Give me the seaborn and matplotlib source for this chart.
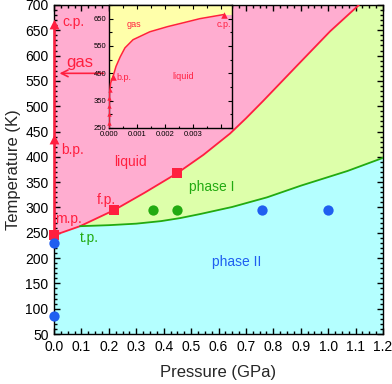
import numpy as np
import pandas as pd
import matplotlib
matplotlib.use("Agg")
import matplotlib.pyplot as plt
from matplotlib.ticker import MultipleLocator
import seaborn as sns

# --- data ---
# melting line (liquid / solid), GPa and K
melt_p = [0.0, 0.095, 0.22, 0.33, 0.45, 0.545, 0.642, 0.70, 0.762, 0.886, 1.007, 1.112]
melt_t = [245, 263, 295, 329, 368, 404, 446, 476, 510, 580, 648, 700]
# phase I / phase II boundary
solid_p = [0.095, 0.20, 0.30, 0.39, 0.46, 0.533, 0.65, 0.777, 0.90, 1.07, 1.20]
solid_t = [263, 265, 268, 273, 279, 287, 301, 320, 343, 372, 398]

# special points
tri_p = [0.0, 0.0]              # c.p., b.p.
tri_t = [663, 435]
sq_p = [0.0, 0.22, 0.45]        # m.p., f.p., extra
sq_t = [245, 294, 368]
green_p = [0.36, 0.45]
green_t = [294, 294]
blue_p = [0.0, 0.0, 0.76, 1.0]
blue_t = [230, 85, 295, 295]

# inset: vapour pressure curve
vap_p = [0.0, 0.00002, 0.00006, 0.00014, 0.00025, 0.0004, 0.00057, 0.00086, 0.00146,
         0.0021, 0.0027, 0.00325, 0.0041]
vap_t = [250, 380, 415, 437, 475, 510, 543, 573, 602, 621, 636, 650, 665]
vap_mark_p = [0.0, 0.0, 0.0, 0.0, 0.00002, 0.00014]
vap_mark_t = [270, 300, 330, 360, 390, 437]

PINK = "#ffadd0"
LIME = "#ddffaa"
CYAN = "#b4ffff"
YELLOW = "#ffffaa"
RED = "#ff1f3f"
GREEN = "#22aa11"
BLUE = "#1f5ff0"

sns.set_theme(style="ticks")
plt.rcParams["font.family"] = ["Liberation Sans", "DejaVu Sans"]


def style_axes(a, major, minor, width, lsize, pad):
    a.tick_params(which="both", direction="in", top=True, right=True,
                  color="black", labelcolor="black", labelsize=lsize, width=width, pad=pad)
    a.tick_params(which="major", length=major)
    a.tick_params(which="minor", length=minor)
    for s in a.spines.values():
        s.set_color("black")
        s.set_linewidth(1)


fig = plt.figure(figsize=(3.92, 3.84), dpi=100)
ax = fig.add_axes([54 / 392, 1 - 334 / 384, 329 / 392, 329 / 384])
ax.set_facecolor(PINK)

# fills, kept below the axis so the inward ticks stay visible
top_p = melt_p + [1.2]
top_t = melt_t + [700]
ax.fill_between(top_p, 0, top_t, color=LIME, lw=0, zorder=-2)
low_p = melt_p[:2] + solid_p[1:]
low_t = melt_t[:2] + solid_t[1:]
ax.fill_between(low_p, 0, low_t, color=CYAN, lw=0, zorder=-1)

melt = pd.DataFrame({"p": melt_p, "t": melt_t})
solid = pd.DataFrame({"p": solid_p, "t": solid_t})
sns.lineplot(data=melt, x="p", y="t", color=RED, lw=1.3, sort=False, ax=ax, zorder=3)
sns.lineplot(data=solid, x="p", y="t", color=GREEN, lw=1.3, sort=False, ax=ax, zorder=3)
ax.plot([0, 0], [245, 663], color=RED, lw=1.8, clip_on=False, zorder=10)

sns.scatterplot(x=tri_p, y=tri_t, marker="^", s=50, color=RED, linewidth=0, ax=ax, zorder=11, clip_on=False)
sns.scatterplot(x=sq_p, y=sq_t, marker="s", s=55, color=RED, linewidth=0, ax=ax, zorder=11, clip_on=False)
sns.scatterplot(x=green_p, y=green_t, marker="o", s=55, color=GREEN, linewidth=0, ax=ax, zorder=11)
sns.scatterplot(x=blue_p, y=blue_t, marker="o", s=55, color=BLUE, linewidth=0, ax=ax, zorder=11, clip_on=False)

ax.set_xlim(0, 1.2)
ax.set_ylim(50, 700)
ax.xaxis.set_major_locator(MultipleLocator(0.1))
ax.xaxis.set_minor_locator(MultipleLocator(0.025))
ax.yaxis.set_major_locator(MultipleLocator(50))
ax.yaxis.set_minor_locator(MultipleLocator(10))
ax.xaxis.set_major_formatter(lambda v, pos: f"{v:.1f}")
style_axes(ax, 4.5, 2.5, 1.0, 10, 4)
ax.set_xlabel("Pressure (GPa)", fontsize=12, labelpad=8)
ax.set_ylabel("Temperature (K)", fontsize=12, labelpad=3)

# labels
ax.text(0.03, 667, "c.p.", color=RED, fontsize=10, va="center", ha="left", zorder=12)
ax.text(0.025, 414, "b.p.", color=RED, fontsize=10, va="center", ha="left", zorder=12)
ax.text(0.28, 390, "liquid", color=RED, fontsize=10, va="center", ha="center", zorder=12)
ax.text(0.19, 315, "f.p.", color=RED, fontsize=10, va="center", ha="center", zorder=12)
ax.text(0.005, 278, "m.p.", color=RED, fontsize=10, va="center", ha="left", zorder=12)
ax.text(0.13, 240, "t.p.", color=GREEN, fontsize=10, va="center", ha="center", zorder=12)
ax.text(0.575, 340, "phase I", color=GREEN, fontsize=10, va="center", ha="center", zorder=12)
ax.text(0.665, 192, "phase II", color=BLUE, fontsize=10, va="center", ha="center", zorder=12)
ax.text(0.095, 587, "gas", color=RED, fontsize=12, va="center", ha="center", zorder=12)
ax.annotate("", xy=(0.01, 565), xytext=(0.19, 565),
            arrowprops=dict(arrowstyle="->", color=RED, lw=1.2), zorder=12)

# inset
ins = fig.add_axes([109 / 392, 1 - 128 / 384, 123 / 392, 123 / 384])
ins.set_facecolor(YELLOW)
ins.fill_between(vap_p + [0.0044], 0, vap_t + [0], color=PINK, lw=0, zorder=-2)
ins.fill_between([0.0041, 0.0044], 0, [665, 665], color=PINK, lw=0, zorder=-2)
vap = pd.DataFrame({"p": vap_p, "t": vap_t})
sns.lineplot(data=vap, x="p", y="t", color=RED, lw=1.1, sort=False, ax=ins, zorder=3)
sns.scatterplot(x=vap_mark_p, y=vap_mark_t, marker="^", s=10, color=RED, linewidth=0,
                ax=ins, zorder=11, clip_on=False)
sns.scatterplot(x=[0.00014, 0.0041], y=[437, 665], marker="^", s=22, color=RED, linewidth=0,
                ax=ins, zorder=11)
ins.set_xlim(0, 0.0044)
ins.set_ylim(250, 700)
ins.xaxis.set_major_locator(MultipleLocator(0.001))
ins.xaxis.set_minor_locator(MultipleLocator(0.0005))
ins.set_yticks([250, 350, 450, 550, 650])
ins.yaxis.set_minor_locator(MultipleLocator(50))
ins.xaxis.set_major_formatter(lambda v, pos: f"{v:.3f}" if v < 0.0035 else "")
style_axes(ins, 3, 1.8, 0.8, 5.5, 2)
ins.set_xlabel("")
ins.set_ylabel("")
ins.text(0.00088, 630, "gas", color=RED, fontsize=6.5, va="center", ha="center")
ins.text(0.00265, 440, "liquid", color=RED, fontsize=6.5, va="center", ha="center")
ins.text(0.00028, 435, "b.p.", color=RED, fontsize=6.5, va="center", ha="left")
ins.text(0.0041, 630, "c.p.", color=RED, fontsize=6.5, va="center", ha="center")

fig.savefig("out.png", dpi=100)
